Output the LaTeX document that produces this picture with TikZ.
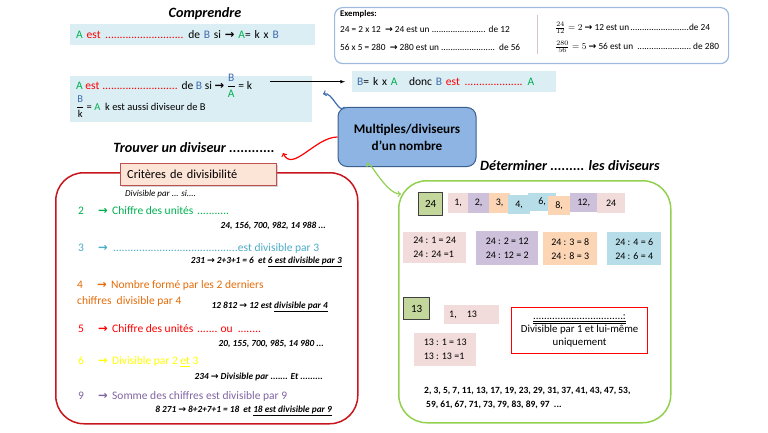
\documentclass[tikz,border=0pt]{standalone}
\usepackage{fontspec}
\usepackage{amsmath}
\setmainfont{Carlito}
\newfontfamily\flechefont{DejaVu Sans}
\usetikzlibrary{shadows}

\definecolor{vertA}{HTML}{00B050}
\definecolor{bleuB}{HTML}{3F6BB0}
\definecolor{rougeest}{HTML}{FF0000}
\definecolor{fondbleu}{HTML}{DBEEF4}
\definecolor{bordex}{HTML}{9DB9DE}
\definecolor{fondcentre}{HTML}{8DB4E2}
\definecolor{bordcentre}{HTML}{3B5F8F}
\definecolor{rougecadre}{HTML}{C8161D}
\definecolor{vertcadre}{HTML}{92D050}
\definecolor{fondcrit}{HTML}{FCE4D6}
\definecolor{bordcrit}{HTML}{C0504D}
\definecolor{regledeux}{HTML}{00B050}
\definecolor{regletrois}{HTML}{4BACC6}
\definecolor{reglequatre}{HTML}{E46C0A}
\definecolor{reglecinq}{HTML}{FF0000}
\definecolor{reglesix}{HTML}{FFFF00}
\definecolor{regleneuf}{HTML}{8064A2}
\definecolor{puceRose}{HTML}{F2DCDB}
\definecolor{puceViolet}{HTML}{CCC0DA}
\definecolor{puceOrange}{HTML}{FCD5B5}
\definecolor{puceBleu}{HTML}{B7DEE8}
\definecolor{fondnombre}{HTML}{C3D69B}
\definecolor{bordnombre}{HTML}{404040}
\definecolor{separateur}{HTML}{D9C3C8}

\newcommand{\fl}{{\flechefont\bfseries\char"2192}}
\newcommand{\pts}[1]{\leavevmode\leaders\hbox{.}\hskip#1\kern0pt\relax}
\newcommand{\taille}[1]{\fontsize{#1}{#1}\selectfont}
\newcommand{\ligne}[2]{\makebox[20pt][l]{#1}\makebox[14pt][l]{\fl}#2}

\begin{document}
\begin{tikzpicture}[x=1pt, y=-1pt]
    \tikzstyle{every node}=[inner sep=0pt, font=\taille{11.5}]
    \tikzstyle{titre}=[font=\taille{14.2}\bfseries\itshape]
    \tikzstyle{bande}=[fill=fondbleu, anchor=north west, align=left, inner xsep=6pt]
    \tikzstyle{regle}=[anchor=west, font=\taille{11.5}]
    \tikzstyle{exemple}=[anchor=east, font=\taille{9.3}\bfseries\itshape]
    \tikzstyle{puce}=[anchor=north west, font=\taille{10}]
    \tikzstyle{division}=[anchor=north west, align=left, font=\fontsize{10}{14}\selectfont]
    \tikzstyle{nombre}=[draw=bordnombre, fill=fondnombre, line width=1.2pt, anchor=north west, font=\taille{11}]
    \useasboundingbox (0,0) rectangle (768,433);

% Comprendre
    \node[titre] (comprendre) at (205,14) {Comprendre};
    \node[bande, minimum width=245, minimum height=21, text width=233] (un) at (70,24) {{\color{vertA}A} {\color{rougeest}est \pts{80pt}} de {\color{bleuB}B} si \fl{} {\color{vertA}A}= k x {\color{bleuB}B}};
    \node[bande, minimum width=242, minimum height=46] (deux) at (70,76) {};
    \node[anchor=west] (deuxa) at (76,86) {{\color{vertA}A} {\color{rougeest}est \pts{77pt}} de {\color{bleuB}B} si \fl{} $\dfrac{\text{\color{bleuB}B}}{\text{\color{vertA}A}}$ = k};
    \node[anchor=west, font=\taille{10.5}] (deuxb) at (76,107) {$\dfrac{\text{\color{bleuB}B}}{\text{k}}$ = {\color{vertA}A}\ \ k est aussi diviseur de B};
    \node[bande, minimum width=204, minimum height=21, text width=194, inner xsep=5] (trois) at (352,71) {{\color{bleuB}B}= k x {\color{vertA}A}\quad donc {\color{bleuB}B} {\color{rougeest}est \pts{60pt}} {\color{vertA}A}};

% Exemples
    \node[draw=bordex, line width=1.2, rounded corners=8, minimum width=394, minimum height=56, anchor=north west] (exemples) at (334,7) {};
    \node[anchor=west, font=\taille{8.7}\bfseries] (exlabel) at (340,14) {Exemples:};
    \node[anchor=west, font=\taille{9.3}] (exa) at (340,29) {24 = 2 x 12 \ \fl{} 24 est un \pts{55pt} de 12};
    \node[anchor=west, font=\taille{9.3}] (exb) at (340,47) {56 x 5 = 280 \ \fl{} 280 est un \pts{56pt} de 56};
    \draw[separateur] (537,15) -- (537,54);
    \node[anchor=west, font=\taille{9.3}] (exc) at (555,28) {$\frac{24}{12}=2$ \fl{} 12 est un\pts{60pt}de 24};
    \node[anchor=west, font=\taille{9.3}] (exd) at (555,47) {$\frac{280}{56}=5$ \fl{} 56 est un \pts{58pt}de 280};

% Centre
    \node[draw=bordcentre, fill=fondcentre, line width=1, rounded corners=9, minimum width=138, minimum height=59, align=center, font=\fontsize{13.2}{17}\selectfont\bfseries] (centre) at (407,137) {Multiples/diviseurs\\d’un nombre};

    \node[titre] (trouver) at (194,148) {Trouver un diviseur ............};
    \node[titre] (determiner) at (570,166) {Déterminer ......... les diviseurs};

% Criteres de divisibilite
    \node[draw=rougecadre, line width=1.5, rounded corners=28, minimum width=302, minimum height=251, anchor=north west] (cadrerouge) at (55,172) {};
    \node[draw=bordcrit, fill=fondcrit, drop shadow={opacity=0.35, shadow xshift=1.5pt, shadow yshift=-1.5pt}, minimum width=156, minimum height=22, text width=142, inner xsep=7, align=left, anchor=north west, font=\taille{12.3}] (criteres) at (120,163) {Critères de divisibilité};
    \node[anchor=west, font=\taille{9}\itshape] (sipar) at (125,194) {Divisible par ... si....};

    \node[regle, text=regledeux] (deuxr) at (78,211) {\ligne{2}{Chiffre des unités \pts{34pt}}};
    \node[exemple] (deuxex) at (326,226) {24, 156, 700, 982, 14 988 ...};
    \node[regle, text=regletrois] (troisr) at (78,248) {\ligne{3}{\pts{126pt}est divisible par 3}};
    \node[exemple] (troisex) at (342,262) {231 \fl{} 2+3+1 = 6\ \ et \underline{6 est divisible par 3}};
    \node[regle, text=reglequatre, align=left, font=\fontsize{11.5}{16}\selectfont] (quatrer) at (77,293) {\ligne{4}{Nombre formé par les 2 derniers}\\chiffres\ \ divisible par 4};
    \node[exemple] (quatreex) at (328,307) {12 812 \fl{} 12 est \underline{divisible par 4}};
    \node[regle, text=reglecinq] (cinqr) at (78,329) {\ligne{5}{Chiffre des unités \pts{22pt} ou \pts{26pt}}};
    \node[exemple] (cinqex) at (324,344) {20, 155, 700, 985, 14 980 ...};
    \node[regle, text=reglesix] (sixr) at (78,362) {\ligne{6}{Divisible par 2 \underline{et} 3}};
    \node[exemple] (sixex) at (323,377) {234 \fl{} Divisible par ....... Et .........};
    \node[regle, text=regleneuf] (neufr) at (78,396) {\ligne{9}{Somme des chiffres est divisible par 9}};
    \node[exemple] (neufex) at (332,411) {8 271 \fl{} 8+2+7+1 = 18\ \ et \underline{18 est divisible par 9}};

% Determiner les diviseurs
    \node[draw=vertcadre, line width=1.5, rounded corners=28, minimum width=272, minimum height=242, anchor=north west] (cadrevert) at (398,180) {};
    \node[nombre, minimum width=24, minimum height=23] (vingtquatre) at (418,192) {24};
    \node[puce, fill=puceRose, minimum width=20, minimum height=20] (dun) at (448,193) {1,};
    \node[puce, fill=puceViolet, minimum width=21, minimum height=20] (ddeux) at (468,193) {2,};
    \node[puce, fill=puceOrange, minimum width=21, minimum height=20] (dtrois) at (489,193) {3,};
    \node[puce, fill=puceBleu, minimum width=22, minimum height=19] (dquatre) at (508,195) {4,};
    \node[puce, fill=puceBleu, minimum width=28, minimum height=18] (dsix) at (528,193) {6,};
    \node[puce, fill=puceOrange, minimum width=22, minimum height=19] (dhuit) at (548,196) {8,};
    \node[puce, fill=puceViolet, minimum width=27, minimum height=19] (ddouze) at (570,193) {12,};
    \node[puce, fill=puceRose, minimum width=28, minimum height=20] (dvingt) at (597,193) {24};

    \node[division, fill=puceRose, minimum width=63, minimum height=31] (divun) at (403,232) {24 : 1 = 24\\24 : 24 =1};
    \node[division, fill=puceViolet, minimum width=62, minimum height=34] (divdeux) at (476,231) {24 : 2 = 12\\24 : 12 = 2};
    \node[division, fill=puceOrange, minimum width=54, minimum height=33] (divtrois) at (543,232) {24 : 3 = 8\\24 : 8 = 3};
    \node[division, fill=puceBleu, minimum width=54, minimum height=33] (divquatre) at (607,232) {24 : 4 = 6\\24 : 6 = 4};

    \node[nombre, minimum width=26, minimum height=22] (treize) at (403,297) {13};
    \node[puce, fill=puceRose, minimum width=55, minimum height=19, text width=45, inner xsep=5, align=left] (dtreize) at (444,305) {1,\quad 13};
    \node[division, fill=puceRose, minimum width=62, minimum height=33] (divtreize) at (414,333) {13 : 1 = 13\\13 : 13 =1};
    \node[draw=red, line width=1.2, minimum width=136, minimum height=46, anchor=north west, align=center, font=\fontsize{10.8}{13}\selectfont] (premier) at (511,307) {\underline{\underline{\pts{90pt}:}}\\Divisible par 1 et lui-même\\uniquement};
    \node[anchor=west, align=left, font=\fontsize{9.5}{14}\selectfont\bfseries] (premiers) at (424,398) {2, 3, 5, 7, 11, 13, 17, 19, 23, 29, 31, 37, 41, 43, 47, 53,\\\hspace*{2pt}59, 61, 67, 71, 73, 79, 83, 89, 97\ \ ...};

% fleches
    \coordinate (pointebleue) at (323,94);
    \coordinate (pointerouge) at (283,153);
    \coordinate (pointeverte) at (401,194);
    \draw[-latex, line width=0.6, shorten <=18pt, shorten >=7pt] (deuxa.east |- trois.west) -- (trois.west);
    \draw[->, bleuB, line width=1.2] ([xshift=7pt]centre.north west) to[out=-125, in=15] (pointebleue);
    \draw[->, red, line width=1.2] (centre.west) to[out=180, in=-65] (pointerouge);
    \draw[->, vertcadre, line width=1.2] ([xshift=-40pt]centre.south) to[out=95, in=180] (pointeverte);
\end{tikzpicture}
\end{document}
